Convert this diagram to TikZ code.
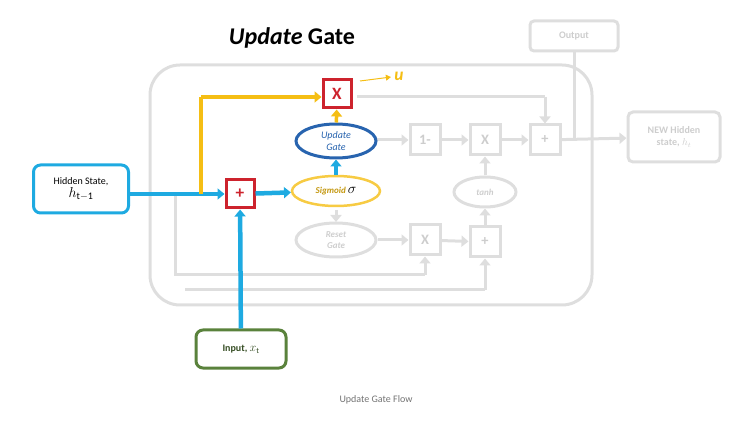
\documentclass[tikz,border=0pt]{standalone}
\usepackage{fontspec}
\setmainfont{Carlito}
\usetikzlibrary{arrows.meta,shapes.geometric}
\definecolor{lg}{RGB}{222,222,222}
\definecolor{tg}{RGB}{205,205,205}
\definecolor{cy}{RGB}{30,170,225}
\definecolor{yl}{RGB}{245,190,20}
\definecolor{rd}{RGB}{205,35,45}
\definecolor{gn}{RGB}{90,130,60}
\definecolor{bl}{RGB}{40,100,175}
\begin{document}
\begin{tikzpicture}[x=1pt,y=-1pt,
 gbox/.style={draw=lg,line width=3pt,minimum size=30pt,text=tg,font=\bfseries\Large},
 rbox/.style={draw=rd,line width=3pt,fill=white,minimum size=28pt,text=rd,font=\bfseries\LARGE},
 gell/.style={ellipse,draw=lg,line width=3pt,minimum width=80pt,minimum height=34pt,text=tg,font=\bfseries\itshape\small,align=center},
 gline/.style={draw=lg,line width=3pt},
 garr/.style={gline,-{Triangle[length=7pt,width=11pt]}},
 barr/.style={cy,line width=4.5pt,-{Triangle[length=7pt,width=11pt]}},
 yarr/.style={yl,line width=4.5pt,-{Triangle[length=7pt,width=11pt]}},
 ibox/.style={rounded corners=7pt,line width=3pt,fill=white,align=center}]
\useasboundingbox (0,0) rectangle (753,422);
\node (title) at (292,38) {\fontsize{24}{26}\selectfont\bfseries\itshape Update \upshape Gate};
\draw[lg,line width=3pt,rounded corners=30pt] (150,65) rectangle (592,305);
\node[gbox,minimum width=88pt,minimum height=30pt,rounded corners=4pt,font=\bfseries\normalsize] (out) at (574,36) {Output};
\node[gbox,minimum width=92pt,minimum height=50pt,rounded corners=5pt,font=\bfseries\normalsize,align=center] (new) at (674,137) {NEW Hidden\\state, $h_t$};
\node[gbox] (om) at (425,140) {1-};
\node[gbox] (mx) at (485,140) {X};
\node[gbox] (pl) at (545,140) {+};
\node[gell,minimum width=62pt,minimum height=30pt] (tanh) at (485,192) {tanh};
\node[gbox] (rx) at (425,240) {X};
\node[gbox] (rp) at (485,242) {+};
\node[gell] (reset) at (336,240) {Reset\\Gate};
% gray connectors
\coordinate (c1) at (545,97);
\draw[gline] (357,97) -- (c1);
\draw[garr] (c1) -- (pl);
\draw[garr] (pl) -- (new);
\draw[gline] (out) -- (out |- pl);
\draw[garr] (375,140) -- (om);
\draw[garr] (om) -- (mx);
\draw[garr] (mx) -- (pl);
\draw[garr] (tanh) -- (mx);
\draw[garr] (rp) -- (tanh);
\draw[garr] (reset) -- (rx);
\draw[garr] (rx) -- (rp);
\draw[garr] (336,210) -- (336,222);
\coordinate (l1) at (175,193);
\coordinate (l2) at (175,275);
\coordinate (l3) at (425,275);
\draw[gline] (l1) -- (l2) -- (l3);
\draw[garr] (l3) -- (rx);
\coordinate (m1) at (185,290);
\coordinate (m2) at (485,290);
\draw[gline] (m1) -- (m2);
\draw[garr] (m2) -- (rp);
% colored nodes
\node[ibox,draw=cy,minimum width=95pt,minimum height=48pt,font=\normalsize] (hid) at (81,189) {Hidden State,\\[1pt]{\Large $h_{\mathrm{t-1}}$}};
\node[ibox,draw=gn,minimum width=90pt,minimum height=38pt,font=\normalsize\bfseries,text=gn!60!black] (inp) at (241,349) {Input, {\large $x_{\mathrm t}$}};
\node[rbox] (plus) at (240,194) {+};
\node[rbox] (mul) at (337,94) {X};
\node[ellipse,draw=bl,line width=3pt,fill=white,minimum width=80pt,minimum height=34pt,text=bl,font=\itshape\normalsize,align=center,inner sep=1pt] (ug) at (336,141) {Update\\Gate};
\node[ellipse,draw=yl!80,line width=2.5pt,fill=white,minimum width=88pt,minimum height=30pt,font=\bfseries\itshape\small] (sig) at (336,191) {\textcolor{yl!80!black}{Sigmoid} {\Large $\sigma$}};
\draw[barr] (hid.east |- plus) -- (plus);
\draw[barr] (inp) -- (plus);
\draw[barr] (plus) -- (sig);
\draw[barr,line width=3.5pt] (sig) -- (ug);
\draw[yarr,line width=3.5pt] (ug) -- (mul);
\coordinate (y1) at (201,194);
\coordinate (y2) at (201,97);
\draw[yl,line width=4.5pt] (y1) -- (y2);
\draw[yarr] (y2) -- (mul.west |- y2);
\node[text=yl,font=\bfseries\itshape\LARGE] (u) at (399,76) {u};
\coordinate (ua) at (360,81);
\draw[yl,line width=1pt,-{Triangle[length=5pt,width=6pt]}] (ua) -- (u);
\node[text=gray!90!black,font=\normalsize] (cap) at (376,400) {Update Gate Flow};
\end{tikzpicture}
\end{document}
